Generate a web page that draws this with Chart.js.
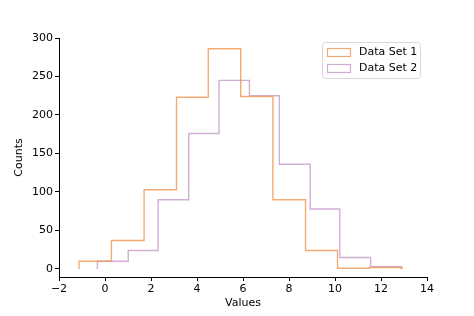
<!DOCTYPE html>
<html>
<head>
<meta charset="utf-8">
<script src="https://cdn.jsdelivr.net/npm/chart.js@4/dist/chart.umd.min.js"></script>
<style>
  html, body { margin: 0; padding: 0; background: #fff; }
  #wrap { width: 474px; height: 316px; }
</style>
</head>
<body>
<div id="wrap"><canvas id="chart" width="474" height="316"></canvas></div>
<script>
// bin edges and counts
const seriesNames = ['Data Set 1', 'Data Set 2'];
const edges1 = [-1.13, 0.28, 1.70, 3.11, 4.49, 5.90, 7.30, 8.72, 10.11, 11.50, 12.91];
const counts1 = [10, 37, 103, 223, 286, 224, 90, 24, 1, 2];
const edges2 = [-0.33, 1.01, 2.31, 3.64, 4.96, 6.28, 7.58, 8.92, 10.21, 11.55, 12.88];
const counts2 = [10, 24, 90, 176, 245, 225, 136, 78, 15, 3];
const xTicks = [-2, 0, 2, 4, 6, 8, 10, 12, 14];
const yTicks = [0, 50, 100, 150, 200, 250, 300];

const colors = ['rgba(240, 150, 80, 0.8)', 'rgba(190, 140, 195, 0.7)'];
const FONT = 'DejaVu Sans';
const FS = 11;

// turn edges + counts into a step outline (like histtype='step')
function stepPoints(edges, counts) {
  const pts = [{ x: edges[0], y: 0 }];
  counts.forEach((c, i) => {
    pts.push({ x: edges[i], y: c });
    pts.push({ x: edges[i + 1], y: c });
  });
  pts.push({ x: edges[edges.length - 1], y: 0 });
  return pts;
}

const minusSign = v => String(v).replace('-', '\u2212');

// legend box drawn inside the plot, top right
const boxLegend = {
  id: 'boxLegend',
  afterDraw(chart) {
    const ctx = chart.ctx;
    const x = 322, y = 42, w = 98, h = 36;
    ctx.save();
    ctx.beginPath();
    ctx.roundRect(x + 0.5, y + 0.5, w, h, 3);
    ctx.fillStyle = 'rgba(255,255,255,0.8)';
    ctx.fill();
    ctx.strokeStyle = '#d9d9d9';
    ctx.lineWidth = 1;
    ctx.stroke();
    ctx.font = FS + 'px "' + FONT + '"';
    ctx.textBaseline = 'middle';
    ctx.fillStyle = '#000';
    seriesNames.forEach((name, i) => {
      const cy = 52.5 + i * 16;
      ctx.strokeStyle = colors[i];
      ctx.lineWidth = 1.2;
      ctx.strokeRect(327.5, cy - 4, 23, 8);
      ctx.fillText(name, 359, cy);
    });
    ctx.restore();
  }
};

new Chart(document.getElementById('chart'), {
  type: 'line',
  data: {
    datasets: [
      { label: seriesNames[0], data: stepPoints(edges1, counts1), borderColor: colors[0] },
      { label: seriesNames[1], data: stepPoints(edges2, counts2), borderColor: colors[1] }
    ]
  },
  options: {
    responsive: false,
    animation: false,
    layout: { padding: { left: 0, right: 47, top: 38, bottom: 0 } },
    elements: {
      line: { borderWidth: 1.4, tension: 0, fill: false },
      point: { radius: 0 }
    },
    plugins: { legend: { display: false }, tooltip: { enabled: false } },
    scales: {
      x: {
        type: 'linear',
        min: -2,
        max: 14,
        afterBuildTicks: s => { s.ticks = xTicks.map(v => ({ value: v })); },
        afterFit: s => { s.height = 39; },
        grid: { drawOnChartArea: false, drawTicks: true, tickLength: 4, color: '#000' },
        border: { display: true, color: '#000', width: 1 },
        ticks: { color: '#000', padding: 2, font: { family: FONT, size: FS }, maxRotation: 0, callback: minusSign },
        title: { display: true, text: 'Values', color: '#000', font: { family: FONT, size: FS }, padding: { top: 0, bottom: 6 } }
      },
      y: {
        type: 'linear',
        min: -10.4,
        max: 300,
        afterBuildTicks: s => { s.ticks = yTicks.map(v => ({ value: v })); },
        afterFit: s => { s.width = 59; },
        grid: { drawOnChartArea: false, drawTicks: true, tickLength: 4, color: '#000' },
        border: { display: true, color: '#000', width: 1 },
        ticks: { color: '#000', padding: 2, font: { family: FONT, size: FS }, callback: minusSign },
        title: { display: true, text: 'Counts', color: '#000', font: { family: FONT, size: FS }, padding: { top: 13, bottom: 0 } }
      }
    }
  },
  plugins: [boxLegend]
});
</script>
</body>
</html>
